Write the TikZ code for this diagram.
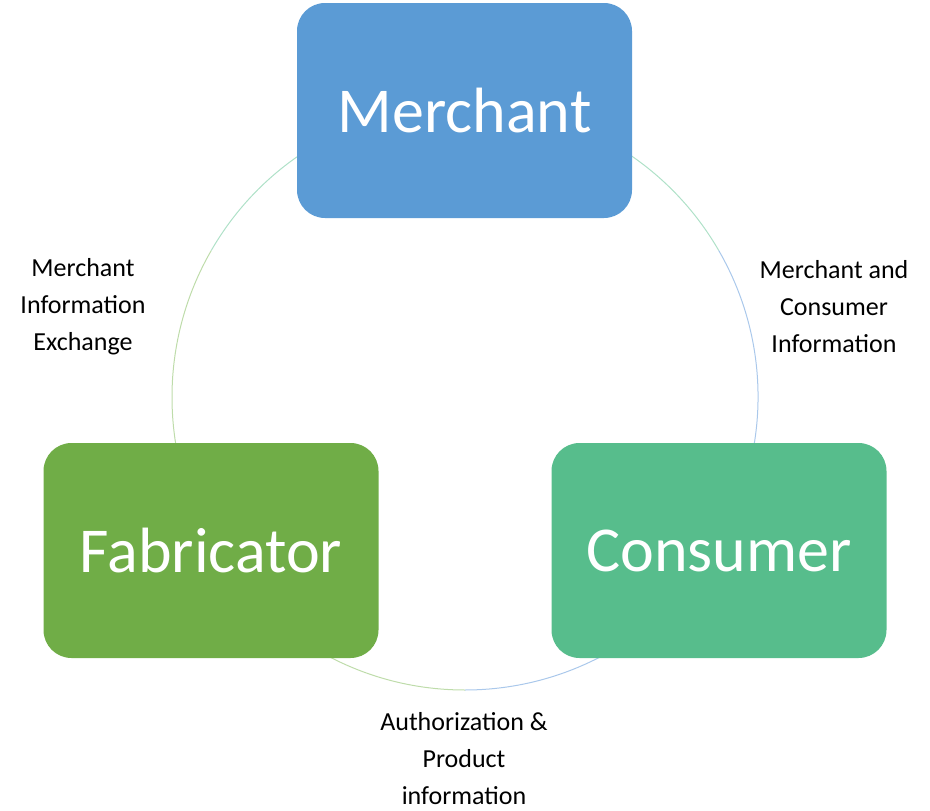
\documentclass[tikz,border=0pt]{standalone}
\usepackage{fontspec}
\setmainfont{Carlito}
\begin{document}
\begin{tikzpicture}[x=1pt,y=-1pt,
  box/.style={rounded corners=28pt,minimum width=335pt,minimum height=215pt,text=white,font=\fontsize{64}{70}\selectfont,inner sep=0pt},
  lbl/.style={align=center,font=\fontsize{26}{37}\selectfont,text=black}]
\useasboundingbox (0,0) rectangle (930,811);
\coordinate (c) at (465,397);
\draw[color={rgb,255:red,190;green,220;blue,170},line width=1pt] (c) ++(90:293) arc[start angle=90,end angle=210,radius=293];
\draw[color={rgb,255:red,175;green,225;blue,200},line width=1pt] (c) ++(210:293) arc[start angle=210,end angle=330,radius=293];
\draw[color={rgb,255:red,170;green,200;blue,235},line width=1pt] (c) ++(330:293) arc[start angle=330,end angle=450,radius=293];
\node[box,fill={rgb,255:red,91;green,155;blue,213}] (m) at (464.5,110.5) {Merchant};
\node[box,fill={rgb,255:red,112;green,173;blue,71}] (f) at (211,550.5) {Fabricator};
\node[box,fill={rgb,255:red,87;green,189;blue,140}] (co) at (719,550.5) {Consumer};
\node[lbl] (l1) at (83,307) {Merchant\\Information\\Exchange};
\node[lbl] (l2) at (834,307) {Merchant and\\Consumer\\Information};
\node[lbl] (l3) at (464,759) {Authorization \&\\Product\\information};
\end{tikzpicture}
\end{document}
